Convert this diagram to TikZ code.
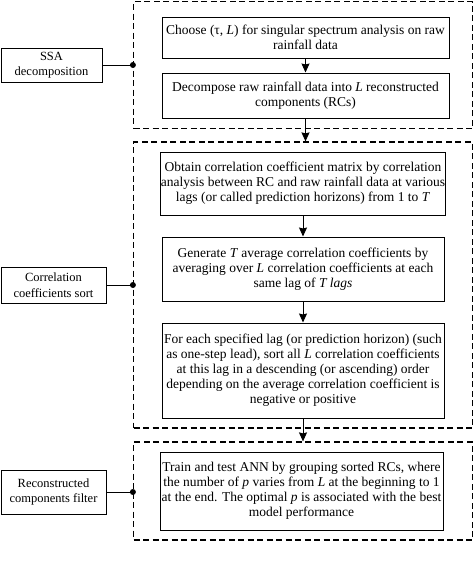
\documentclass[tikz,border=0pt]{standalone}
\usepackage{fontspec}
\setmainfont{Liberation Serif}
\usetikzlibrary{arrows.meta}
\begin{document}
\begin{tikzpicture}[x=1pt,y=-1pt,
  stepbox/.style={draw,line width=1pt,inner sep=0pt,align=center,font=\fontsize{13.5}{15}\selectfont},
  groupbox/.style={draw,dash pattern=on 6pt off 3.5pt,line width=1.2pt,inner sep=0pt},
  sidebox/.style={draw,line width=1pt,inner sep=0pt,align=center,font=\fontsize{12.5}{15.5}\selectfont},
  flow/.style={line width=1pt,-{Stealth[length=9pt,width=8pt,inset=1pt]}},
  link/.style={line width=1pt},
  dotmark/.style={circle,fill,inner sep=0pt,minimum size=6pt}]
\useasboundingbox (0,0) rectangle (474,566);
% group boxes
\node[groupbox,minimum width=339pt,minimum height=127pt] (g1) at (303,65) {};
\node[groupbox,minimum width=339pt,minimum height=286pt] (g2) at (303,285) {};
\node[groupbox,minimum width=339pt,minimum height=98pt] (g3) at (303,491) {};
% steps
\node[stepbox,minimum width=287pt,minimum height=41pt] (a) at (305.5,37.5)
  {Choose (τ, \textit{L}) for singular spectrum analysis on raw\\rainfall data};
\node[stepbox,minimum width=287pt,minimum height=45pt] (b) at (305.5,95.5)
  {Decompose raw rainfall data into \textit{L} reconstructed\\components (RCs)};
\node[stepbox,minimum width=282pt,minimum height=63pt] (c) at (303,183.5)
  {Obtain correlation coefficient matrix by correlation\\analysis between RC and raw rainfall data at various\\lags (or called prediction horizons) from 1 to \textit{T}};
\node[stepbox,minimum width=282pt,minimum height=64pt] (d) at (303,269)
  {Generate \textit{T} average correlation coefficients by\\averaging over \textit{L} correlation coefficients at each\\same lag of \textit{T lags}};
\node[stepbox,minimum width=282pt,minimum height=95pt] (e) at (303,370.5)
  {For each specified lag (or prediction horizon) (such\\as one-step lead), sort all \textit{L} correlation coefficients\\at this lag in a descending (or ascending) order\\depending on the average correlation coefficient is\\negative or positive};
\node[stepbox,minimum width=283pt,minimum height=78pt] (f) at (301.5,491)
  {Train and test ANN by grouping sorted RCs, where\\the number of \textit{p} varies from \textit{L} at the beginning to 1\\at the end. The optimal \textit{p} is associated with the best\\model performance};
% side labels
\node[sidebox,minimum width=101pt,minimum height=34pt] (s1) at (51.5,65) {SSA\\decomposition};
\node[sidebox,minimum width=105pt,minimum height=36pt] (s2) at (53.5,285) {Correlation\\coefficients sort};
\node[sidebox,minimum width=105pt,minimum height=44pt] (s3) at (53.5,492) {Reconstructed\\components filter};
% flow arrows
\draw[flow] (a) -- (b);
\draw[flow] (b) -- (g2.north -| b.south);
\draw[flow] (c) -- (d);
\draw[flow] (d) -- (e);
\draw[flow] (e.south) -- (e.south |- g3.north);
% side links
\draw[link] (s1.east) -- (g1.west |- s1.east) node[dotmark] (d1) {};
\draw[link] (s2.east) -- (g2.west |- s2.east) node[dotmark] (d2) {};
\draw[link] (s3.east) -- (g3.west |- s3.east) node[dotmark] (d3) {};
\end{tikzpicture}
\end{document}
